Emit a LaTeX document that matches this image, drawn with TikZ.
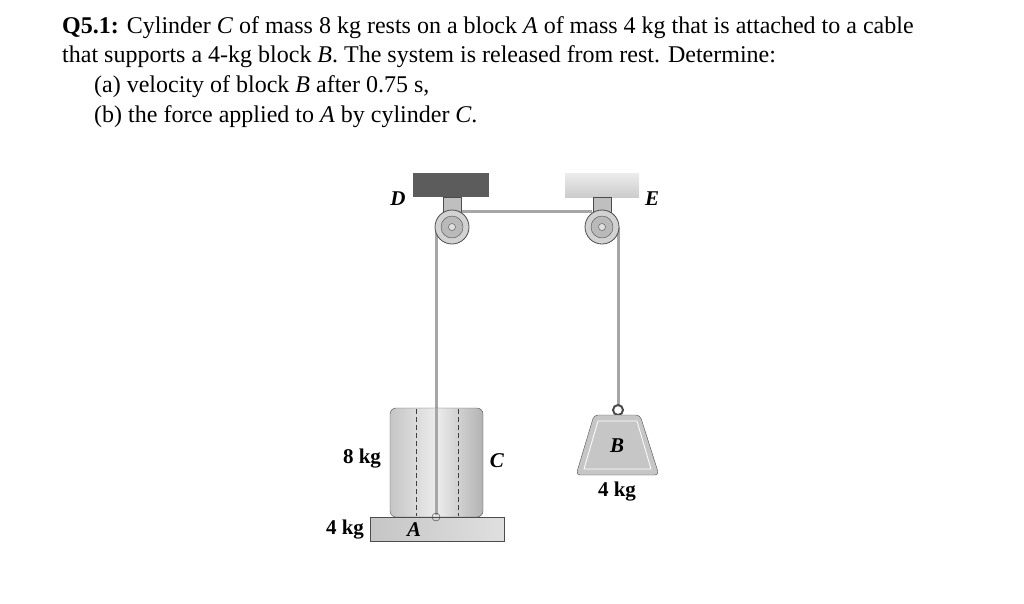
\documentclass[tikz,border=0pt]{standalone}
\usepackage{fontspec}
\setmainfont{Liberation Serif}
\begin{document}
\begin{tikzpicture}[x=1pt,y=-1pt,
  txt/.style={anchor=west,inner sep=0,font=\fontsize{24}{28}\selectfont},
  lbl/.style={inner sep=0,font=\fontsize{21}{24}\selectfont\bfseries},
  cable/.style={draw=gray!70,line width=3pt},
  pulley/.style={circle,draw=gray!60!black,fill=gray!35,minimum size=34pt,inner sep=0,line width=0.8pt}]
\useasboundingbox (0,0) rectangle (1024,603);
\node[txt] (t1) at (62,28) {\textbf{Q5.1:} Cylinder \textit{C} of mass 8 kg rests on a block \textit{A} of mass 4 kg that is attached to a cable};
\node[txt] (t2) at (62,57) {that supports a 4-kg block \textit{B}. The system is released from rest. Determine:};
\node[txt] (t3) at (94,87) {(a) velocity of block \textit{B} after 0.75 s,};
\node[txt] (t4) at (94,117) {(b) the force applied to \textit{A} by cylinder \textit{C}.};
\fill[gray!30!black!75] (413,173) rectangle (489,197);
\shade[top color=gray!15,bottom color=gray!40] (565,173) rectangle (639,197);
\draw[cable] (462,211) -- (592,211);
\draw[cable] (436,227) -- (436,515);
\draw[cable] (618,227) -- (618,405);
\foreach \cx in {452,602}{
  \fill[gray!50,draw=gray!60!black] (\cx-9,197) rectangle (\cx+9,227);
  \node[pulley] at (\cx,227) {};
  \draw[gray!60!black,fill=gray!55] (\cx,227) circle (11);
  \draw[gray!60!black,fill=gray!25] (\cx,227) circle (3.5);
}
\node[lbl] (D) at (398,199) {\textit{D}};
\node[lbl] (E) at (652,199) {\textit{E}};
\shade[left color=gray!45,right color=gray!60,middle color=gray!15,rounded corners=6,draw=gray!60!black] (390,408) rectangle (483,517);
\draw[cable] (436,408) -- (436,515);
\draw[gray!50!black,dash pattern=on 5pt off 3pt] (416,409) -- (416,516);
\draw[gray!50!black,dash pattern=on 5pt off 3pt] (458,409) -- (458,516);
\shade[left color=gray!45,right color=gray!25,draw=gray!60!black] (370,517) rectangle (504,541);
\draw[gray!50!black] (436,517) circle (4);
\node[lbl] (A) at (414,530) {\textit{A}};
\node[lbl] (m8) at (362,459) {8 kg};
\node[lbl] (C) at (497,461) {\textit{C}};
\node[lbl] (m4a) at (345,530) {4 kg};
\draw[gray!60!black,line width=2pt] (618,410) circle (5);
\draw[gray!60!black,fill=gray!45,rounded corners=4] (594,415) -- (640,415) -- (659,475) -- (576,475) -- cycle;
\draw[white,line width=0.8pt] (598,421) -- (637,421) -- (651,469) -- (584,469) -- cycle;
\node[lbl] (B) at (617,446) {\textit{B}};
\node[lbl] (m4b) at (617,492) {4 kg};
\end{tikzpicture}
\end{document}
